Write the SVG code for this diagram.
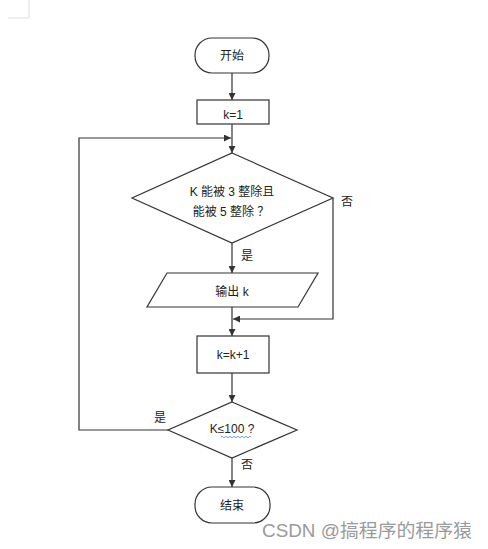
<svg xmlns="http://www.w3.org/2000/svg" width="488" height="549" viewBox="0 0 488 549">
<style>
.shape{fill:#fff;stroke:#333;stroke-width:1.2}
.line{fill:none;stroke:#333;stroke-width:1.2}
.t{font-family:"Liberation Sans","Noto Sans CJK SC",sans-serif;font-size:12px;fill:#222;text-anchor:middle;dominant-baseline:central}
.wm{font-family:"Liberation Sans","Noto Sans CJK SC",sans-serif;font-size:18px;fill:#9a9a9a}
</style>
<defs>
<marker id="arr" viewBox="0 0 10 10" refX="10" refY="5" markerWidth="7" markerHeight="7" markerUnits="userSpaceOnUse" orient="auto">
<path d="M0,0 L10,5 L0,10 z" fill="#333"/>
</marker>
</defs>
<rect width="488" height="549" fill="#fff"/>
<path d="M29,0 V18 H8" fill="none" stroke="#ddd" stroke-width="1"/>
<g id="connectors">
<line class="line" x1="232" y1="73" x2="232" y2="100" marker-end="url(#arr)"/>
<line class="line" x1="232" y1="124" x2="232" y2="153" marker-end="url(#arr)"/>
<line class="line" x1="232" y1="243" x2="232" y2="273" marker-end="url(#arr)"/>
<polyline class="line" points="333,198 333,319 233,319" marker-end="url(#arr)"/>
<line class="line" x1="232" y1="307" x2="232" y2="336" marker-end="url(#arr)"/>
<line class="line" x1="232" y1="373" x2="232" y2="402" marker-end="url(#arr)"/>
<polyline class="line" points="168,430 79,430 79,138 231,138" marker-end="url(#arr)"/>
<line class="line" x1="232" y1="458" x2="232" y2="487" marker-end="url(#arr)"/>
<text class="t" x="347" y="202">否</text>
<text class="t" x="247" y="256">是</text>
<text class="t" x="160" y="418">是</text>
<text class="t" x="247" y="465">否</text>
</g>
<g id="start">
<rect class="shape" x="195" y="38" width="74" height="35" rx="17" ry="17"/>
<text class="t" x="232" y="56">开始</text>
</g>
<g id="init">
<rect class="shape" x="197" y="100" width="72" height="24"/>
<text class="t" x="233" y="115">k=1</text>
</g>
<g id="cond1">
<polygon class="shape" points="232,153 333,198 232,243 132,198"/>
<text class="t" x="232" y="192">K 能被 3 整除且</text>
<text class="t" x="231" y="212">能被 5 整除 ？</text>
</g>
<g id="output">
<polygon class="shape" points="167,273 318,273 298,307 147,307"/>
<text class="t" x="232" y="292">输出 k</text>
</g>
<g id="incr">
<rect class="shape" x="197" y="336" width="72" height="37"/>
<text class="t" x="233" y="355">k=k+1</text>
</g>
<g id="cond2">
<polygon class="shape" points="232,402 297,430 232,458 168,430"/>
<text class="t" x="232" y="429">K≤100 ?</text>
<path d="M221,437 q1,-1.5 2,0 t2,0 t2,0 t2,0 t2,0 t2,0 t2,0 t2,0 t2,0 t2,0 t2,0 t2,0 t2,0 t2,0 t2,0" fill="none" stroke="#5b7fd6" stroke-width="0.8"/>
</g>
<g id="end">
<rect class="shape" x="195" y="487" width="75" height="36" rx="17" ry="17"/>
<text class="t" x="232" y="506">结束</text>
</g>
<text class="wm" x="262" y="537" textLength="210" lengthAdjust="spacingAndGlyphs">CSDN @搞程序的程序猿</text>
</svg>
